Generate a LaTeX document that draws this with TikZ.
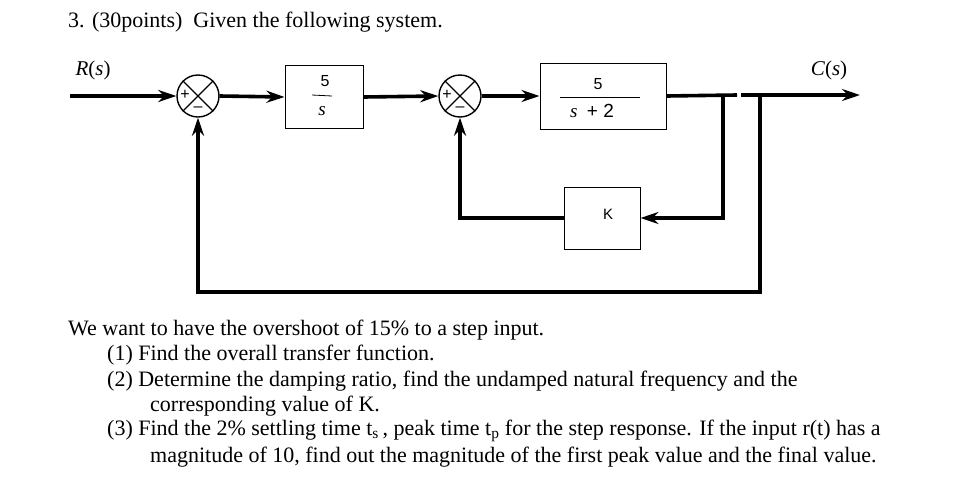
\documentclass[tikz,border=0pt]{standalone}
\usepackage{fontspec}
\setmainfont{Liberation Serif}
\newfontfamily\sansf{Liberation Sans}
\usetikzlibrary{arrows.meta}
\begin{document}
\begin{tikzpicture}[x=1pt,y=-1pt,
  sig/.style={line width=3.6pt,-{Stealth[length=18pt,width=12pt]}},
  ln/.style={line width=3.6pt},
  blk/.style={draw,line width=1pt,minimum width=#1,inner sep=0pt},
  sumn/.style={draw,circle,line width=1.4pt,minimum size=42pt,inner sep=0pt},
  txt/.style={anchor=west,inner sep=0pt,font=\fontsize{22}{22}\selectfont}]
\useasboundingbox (0,0) rectangle (959,496);
\node[txt] (title) at (68,22) {3. (30points)\ \ Given the following system.};
\node[font=\fontsize{21}{22}\selectfont] (R) at (93,70) {\textit{R}(\textit{s})};
\node[font=\fontsize{21}{22}\selectfont] (C) at (829,70) {\textit{C}(\textit{s})};
\coordinate (in) at (70,96);
\node[sumn] (s1) at (198,96) {};
\draw[line width=1.4pt] (s1.north west)--(s1.south east) (s1.north east)--(s1.south west);
\node[font=\sansf\fontsize{16}{16}\selectfont] (p1) at (185,95) {+};
\node[font=\sansf\fontsize{16}{16}\selectfont] (m1) at (198,109) {–};
\node[blk=78pt,minimum height=63pt] (b1) at (324,97) {};
\node[font=\sansf\fontsize{16}{16}\selectfont] (n1) at (325,81) {5};
\draw[line width=0.8pt] (312,95)--(332,96);
\node[font=\fontsize{19}{19}\selectfont] (d1) at (322,111) {\textit{s}};
\node[sumn] (s2) at (460,96) {};
\draw[line width=1.4pt] (s2.north west)--(s2.south east) (s2.north east)--(s2.south west);
\node[font=\sansf\fontsize{16}{16}\selectfont] (p2) at (447,95) {+};
\node[font=\sansf\fontsize{16}{16}\selectfont] (m2) at (460,109) {–};
\node[blk=126pt,minimum height=66pt] (b2) at (603,96) {};
\node[font=\sansf\fontsize{16}{16}\selectfont] (n2) at (598,84) {5};
\draw[line width=0.8pt] (560,97)--(640,97);
\node[font=\fontsize{19}{19}\selectfont] (d2) at (592,111) {\textit{s} \ {\sansf +\ 2}};
\node[blk=76pt,minimum height=62pt] (K) at (602,218) {};
\node[font=\sansf\fontsize{15}{15}\selectfont] (Kt) at (608,214) {K};
\coordinate (t1) at (723,95);
\coordinate (g1) at (737,95);
\coordinate (g2) at (741,95);
\coordinate (t2) at (760,95);
\coordinate (out) at (860,95);
\coordinate (k1) at (723,218);
\coordinate (k2) at (460,218);
\coordinate (o1) at (760,292);
\coordinate (o2) at (198,292);
\draw[sig] (in) -- (s1.west);
\draw[sig] (s1.east) -- (b1.west);
\draw[sig] (b1.east) -- (s2.west);
\draw[sig] (s2.east) -- (b2.west);
\draw[ln] (b2.east) -- (g1);
\draw[sig] (g2) -- (out);
\draw[sig] (t1) -- (k1) -- (K.east);
\draw[sig] (K.west) -- (k2) -- (s2.south);
\draw[sig] (t2) -- (o1) -- (o2) -- (s1.south);
\node[txt] (q0) at (68,330) {We want to have the overshoot of 15\% to a step input.};
\node[txt] (q1) at (107,355) {(1) Find the overall transfer function.};
\node[txt] (q2) at (107,381) {(2) Determine the damping ratio, find the undamped natural frequency and the};
\node[txt] (q2b) at (150,406) {corresponding value of K.};
\node[txt] (q3) at (107,431) {(3) Find the 2\% settling time t\textsubscript{s}\,, peak time t\textsubscript{p} for the step response. If the input r(t) has a};
\node[txt] (q3b) at (150,457) {magnitude of 10, find out the magnitude of the first peak value and the final value.};
\end{tikzpicture}
\end{document}
